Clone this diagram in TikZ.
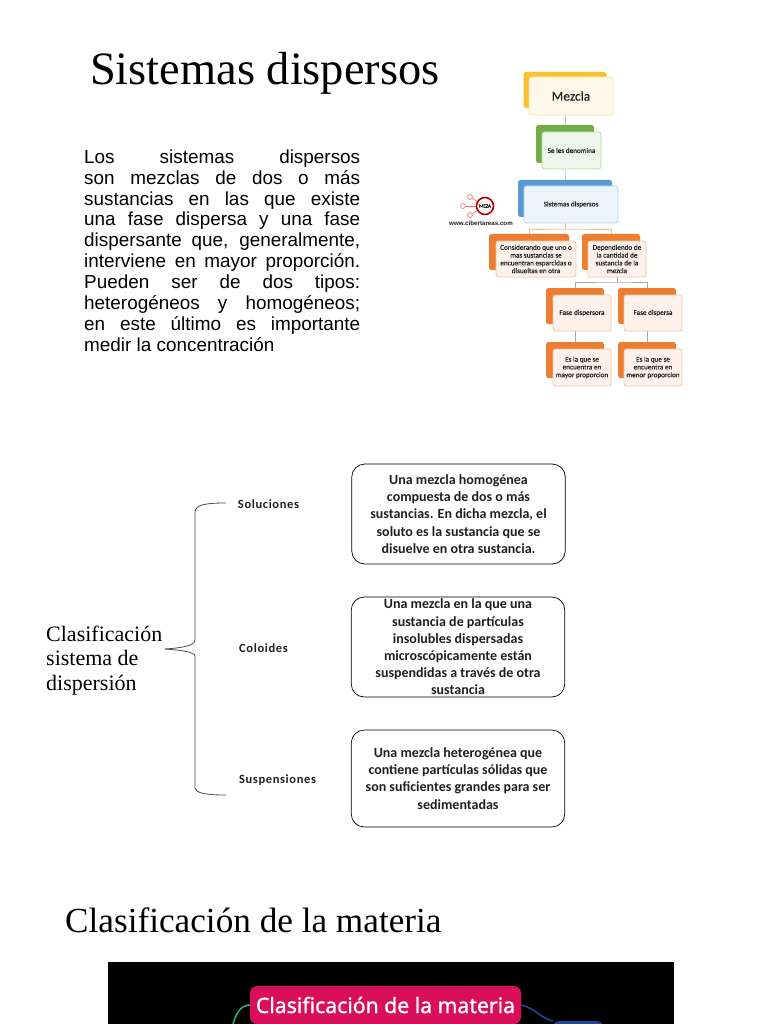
\documentclass[tikz,border=0pt]{standalone}
\usepackage{fontspec}
\setmainfont{Liberation Serif}
\newfontfamily\parafont{Liberation Sans}
\newfontfamily\boxfont{Carlito}
\newfontfamily\kindfont[LetterSpace=5]{Carlito}
\newfontfamily\rootfont[FakeBold=1.1]{Noto Sans}
\newfontfamily\smallfont[FakeBold=0.25]{Carlito}
\usetikzlibrary{backgrounds}
\definecolor{inkbox}{HTML}{1F1F1F}
\definecolor{yellowback}{HTML}{FBC02D}
\definecolor{yellowfront}{HTML}{FFF9EC}
\definecolor{greenback}{HTML}{70AD47}
\definecolor{greenfront}{HTML}{F0F6EC}
\definecolor{blueback}{HTML}{5B9BD5}
\definecolor{bluefront}{HTML}{EEF4FB}
\definecolor{orangeback}{HTML}{ED7D31}
\definecolor{orangefront}{HTML}{FDF3EC}
\definecolor{crimsonnode}{HTML}{D90F5A}
\definecolor{tealline}{HTML}{2BAE8E}
\definecolor{navynode}{HTML}{25479A}
\tikzset{
  backbox/.style={rounded corners=2.5pt, inner sep=0pt},
  frontbox/.style={rounded corners=2.5pt, inner sep=0pt, line width=0.8pt, align=center, text=inkbox, font=\smallfont\fontsize{7.2}{7.8}\selectfont},
  linkline/.style={line width=0.9pt},
  defbox/.style={draw=black, line width=0.7pt, rounded corners=13pt, minimum width=213.5pt, inner sep=0pt, align=center, text=inkbox, font=\boxfont\bfseries\fontsize{14}{17.2}\selectfont},
  kindlabel/.style={inner sep=0pt, text=inkbox, font=\kindfont\bfseries\fontsize{12.5}{13}\selectfont},
  bracepath/.style={draw=black!70, line width=0.8pt}
}
\begin{document}
\begin{tikzpicture}[x=1pt, y=-1pt]
    \useasboundingbox (0, 0) rectangle (768, 1024);
    \clip (0, 0) rectangle (768, 1024);

    \node[anchor=west, inner sep=0pt, font=\fontsize{46.4}{50}\selectfont] (maintitle) at (90, 73) {Sistemas dispersos};
    \node[anchor=north west, inner sep=0pt, text width=276pt, align=justify, font=\parafont\fontsize{18.9}{20.85}\selectfont] (intro) at (84, 149.5) {Los sistemas dispersos\linebreak son mezclas de dos o más\linebreak sustancias en las que existe\linebreak una fase dispersa y una fase\linebreak dispersante que, generalmente,\linebreak interviene en mayor proporción.\linebreak Pueden ser de dos tipos:\linebreak heterogéneos y homogéneos;\linebreak en este último es importante\linebreak medir la concentración};

    % back panels
    \node[backbox, fill=yellowback, minimum width=83pt, minimum height=36pt] (mezclaback) at (565, 90) {};
    \node[backbox, fill=greenback, minimum width=58pt, minimum height=38pt] (denomback) at (565, 144) {};
    \node[backbox, fill=blueback, minimum width=94pt, minimum height=37pt] (sistback) at (565, 198.5) {};
    \node[backbox, fill=orangeback, minimum width=80pt, minimum height=36pt] (consback) at (529, 252) {};
    \node[backbox, fill=orangeback, minimum width=58pt, minimum height=36pt] (depback) at (611, 252) {};
    \node[backbox, fill=orangeback, minimum width=58pt, minimum height=36pt] (faseaback) at (575, 306) {};
    \node[backbox, fill=orangeback, minimum width=58pt, minimum height=36pt] (fasebback) at (647, 306) {};
    \node[backbox, fill=orangeback, minimum width=58pt, minimum height=36pt] (mayorback) at (575, 360) {};
    \node[backbox, fill=orangeback, minimum width=58pt, minimum height=36pt] (menorback) at (647, 360) {};

    % front panels
    \node[frontbox, draw=yellowback!45, fill=yellowfront, minimum width=84pt, minimum height=38pt, font=\smallfont\fontsize{13.5}{15}\selectfont] (mezcla) at (571, 96) {Mezcla};
    \node[frontbox, draw=greenback!50, fill=greenfront, minimum width=59pt, minimum height=37pt] (denom) at (571.5, 150.5) {Se les denomina};
    \node[frontbox, draw=blueback!45, fill=bluefront, minimum width=94pt, minimum height=37pt] (sist) at (571, 204.5) {Sistemas dispersos};
    \node[frontbox, draw=orangeback!45, fill=orangefront, minimum width=80pt, minimum height=36pt] (cons) at (536, 259) {Considerando que uno o\\mas sustancias se\\encuentran esparcidas o\\disueltas en otra};
    \node[frontbox, draw=orangeback!45, fill=orangefront, minimum width=58pt, minimum height=36pt] (dep) at (617, 259) {Dependiendo de\\la cantidad de\\sustancia de la\\mezcla};
    \node[frontbox, draw=orangeback!45, fill=orangefront, minimum width=58pt, minimum height=36pt] (fasea) at (582, 313) {Fase dispersora};
    \node[frontbox, draw=orangeback!45, fill=orangefront, minimum width=58pt, minimum height=36pt] (faseb) at (653, 313) {Fase dispersa};
    \node[frontbox, draw=orangeback!45, fill=orangefront, minimum width=58pt, minimum height=37pt] (mayor) at (582, 367.5) {Es la que se\\encuentra en\\mayor proporcion};
    \node[frontbox, draw=orangeback!45, fill=orangefront, minimum width=58pt, minimum height=37pt] (menor) at (653, 367.5) {Es la que se\\encuentra en\\menor proporcion};

    \coordinate (busa) at (565, 229);
    \coordinate (busb) at (617, 282);
    \begin{scope}[on background layer]
      \draw[linkline, draw=blueback!40!black!25] (mezclaback) -- (denomback);
      \draw[linkline, draw=blueback!40] (denomback) -- (sistback);
      \draw[linkline, draw=orangeback!50] (sistback) -- (busa);
      \draw[linkline, draw=orangeback!50] (consback.north) |- (busa) -| (depback.north);
      \draw[linkline, draw=black!35] (dep) -- (busb);
      \draw[linkline, draw=black!35] (faseaback.north) |- (busb) -| (fasebback.north);
      \draw[linkline, draw=black!35] (faseaback) -- (mayorback);
      \draw[linkline, draw=black!35] (fasebback) -- (menorback);
    \end{scope}

    % logo
    \node[circle, draw=red!75!black, line width=1.6pt, minimum size=17pt, inner sep=0pt, font=\smallfont\fontsize{5}{5}\selectfont] (logohub) at (485, 206) {MEZA};
    \node[circle, draw=red!60, line width=0.6pt, minimum size=5pt, inner sep=0pt] (logoa) at (470, 197) {};
    \node[circle, draw=red!60, line width=0.6pt, minimum size=5pt, inner sep=0pt] (logob) at (463, 206) {};
    \node[circle, draw=red!60, line width=0.6pt, minimum size=5pt, inner sep=0pt] (logoc) at (470, 215) {};
    \draw[draw=red!60, line width=0.6pt] (logoa) -- (logohub);
    \draw[draw=red!60, line width=0.6pt] (logob) -- (logohub);
    \draw[draw=red!60, line width=0.6pt] (logoc) -- (logohub);
    \node[inner sep=0pt, text=inkbox, font=\parafont\bfseries\fontsize{6.2}{6.5}\selectfont] (logourl) at (481, 223.5) {www.cibertareas.com};

    % clasificacion
    \node[anchor=west, inner sep=0pt, align=left, font=\fontsize{22}{24.5}\selectfont] (sistema) at (46, 660.5) {Clasificación\\sistema de\\dispersión};
    \node[kindlabel] (soluciones) at (268.5, 504) {Soluciones};
    \node[kindlabel] (coloides) at (263.5, 648) {Coloides};
    \node[kindlabel] (suspensiones) at (277.5, 780) {Suspensiones};

    \coordinate (bracetip) at (165, 649);
    \coordinate (bracetop) at (226, 503);
    \coordinate (bracebot) at (226, 795);
    \draw[bracepath] (bracetop) .. controls (205, 503) and (196, 505) .. (195, 511) -- (195, 640) .. controls (195, 646) and (180, 648) .. (bracetip);
    \draw[bracepath] (bracebot) .. controls (205, 795) and (196, 793) .. (195, 788) -- (195, 656) .. controls (195, 652) and (180, 650) .. (bracetip);

    \node[defbox, minimum height=100pt] (solbox) at (458.5, 514) {Una mezcla homogénea\\compuesta de dos o más\\sustancias. En dicha mezcla, el\\soluto es la sustancia que se\\disuelve en otra sustancia.};
    \node[defbox, minimum height=100pt] (colbox) at (458, 647) {Una mezcla en la que una\\sustancia de partículas\\insolubles dispersadas\\microscópicamente están\\suspendidas a través de otra\\sustancia};
    \node[defbox, minimum height=97pt] (susbox) at (458, 778.5) {Una mezcla heterogénea que\\contiene partículas sólidas que\\son suficientes grandes para ser\\sedimentadas};

    % materia
    \node[anchor=west, inner sep=0pt, font=\fontsize{35.2}{38}\selectfont] (materia) at (65, 920) {Clasificación de la materia};
    \fill[black] (108, 962) rectangle (674, 1030);
    \node[fill=crimsonnode, rounded corners=7pt, minimum width=271pt, minimum height=38pt, inner sep=0pt, text=white, font=\rootfont\fontsize{21.2}{22}\selectfont] (rootnode) at (385.5, 1005) {Clasificación de la materia};
    \node[fill=navynode, rounded corners=6pt, minimum width=50pt, minimum height=20pt, inner sep=0pt, anchor=north] (bluenode) at (578, 1021) {};
    \coordinate (greenend) at (232, 1028);
    \draw[draw=tealline, line width=1.5pt] (rootnode.west) .. controls (240, 1005) and (235, 1015) .. (greenend);
    \draw[draw=navynode, line width=1.5pt] (rootnode.east) .. controls (535, 1008) and (540, 1018) .. (bluenode.north west);
    \coordinate (stemend) at (385.5, 1030);
    \draw[draw=crimsonnode, line width=1.5pt] (rootnode.south) -- (stemend);
  \end{tikzpicture}
\end{document}
